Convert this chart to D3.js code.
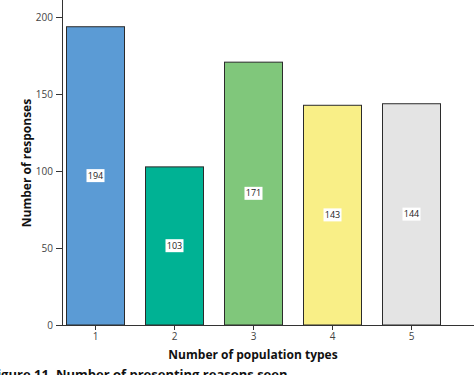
<!DOCTYPE html>
<html><head><meta charset="utf-8">
<script src="https://cdn.jsdelivr.net/npm/d3@7"></script>
<style>body{margin:0;background:#fff;} svg{display:block;font-family:"Open Sans",sans-serif;}</style>
</head><body>
<svg id="c" width="474" height="375"></svg>
<script>
const categories = ["1","2","3","4","5"];
const values = [194, 103, 171, 143, 144];
const colors = ["#5b9bd5","#00b294","#80c77b","#f9ef87","#e4e4e4"];
const yTicks = [0,50,100,150,200];

const svg = d3.select("#c");
const x0 = 62, y0 = 325;
const y = d3.scaleLinear().domain([0,200]).range([y0, 17]);
const step = 79, pIn = 20/79, pOut = 4/79;
const x = d3.scaleBand().domain(categories).range([x0, x0 + step*(5 - pIn + 2*pOut)]).paddingInner(pIn).paddingOuter(pOut);

// bars
svg.selectAll("rect.bar").data(values).join("rect")
  .attr("x",(d,i)=>x(categories[i])+0.5)
  .attr("y",d=>y(d)+0.5)
  .attr("width",x.bandwidth()-1)
  .attr("height",d=>y0-y(d)-0.5)
  .attr("fill",(d,i)=>colors[i])
  .attr("stroke","#2b2b2b").attr("stroke-width",1);

// value labels
const lab = svg.selectAll("g.lab").data(values).join("g")
  .attr("transform",(d,i)=>`translate(${x(categories[i])+x.bandwidth()/2},${y(d/2)})`);
lab.append("rect").attr("x",-9).attr("y",-6.5).attr("width",18).attr("height",13).attr("fill","#fff");
lab.append("text").attr("text-anchor","middle").attr("dy","0.35em").attr("font-size",9).attr("fill","#222").text(d=>d);

// y axis
const ya = svg.append("g").attr("transform",`translate(${x0},0)`)
  .call(d3.axisLeft(y).tickValues(yTicks).tickSize(6).tickPadding(3));
ya.select(".domain").remove();
ya.selectAll(".tick line").attr("stroke","#333");
ya.selectAll(".tick text").attr("font-family","Open Sans").attr("font-size",10).attr("fill","#444");
svg.append("line").attr("x1",x0+0.5).attr("x2",x0+0.5).attr("y1",0).attr("y2",y0+0.5).attr("stroke","#333");

// x axis
const xa = svg.append("g").attr("transform",`translate(0,${y0})`)
  .call(d3.axisBottom(x).tickSize(5).tickPadding(3));
xa.select(".domain").remove();
xa.selectAll(".tick line").attr("stroke","#333");
xa.selectAll(".tick text").attr("font-family","Open Sans").attr("font-size",10).attr("fill","#444");
svg.append("line").attr("x1",x0).attr("x2",474).attr("y1",y0+0.5).attr("y2",y0+0.5).attr("stroke","#333");

// titles
svg.append("text").attr("x",253).attr("y",359).attr("text-anchor","middle")
  .attr("font-size",12).attr("font-weight","bold").attr("fill","#111").text("Number of population types");
svg.append("text").attr("transform","translate(31,163) rotate(-90)").attr("text-anchor","middle")
  .attr("font-size",12).attr("font-weight","bold").attr("fill","#111").text("Number of responses");
svg.append("text").attr("x",-10).attr("y",379)
  .attr("font-size",13).attr("font-weight","bold").attr("fill","#111").text("Figure 11. Number of presenting reasons seen");
</script>
</body></html>
